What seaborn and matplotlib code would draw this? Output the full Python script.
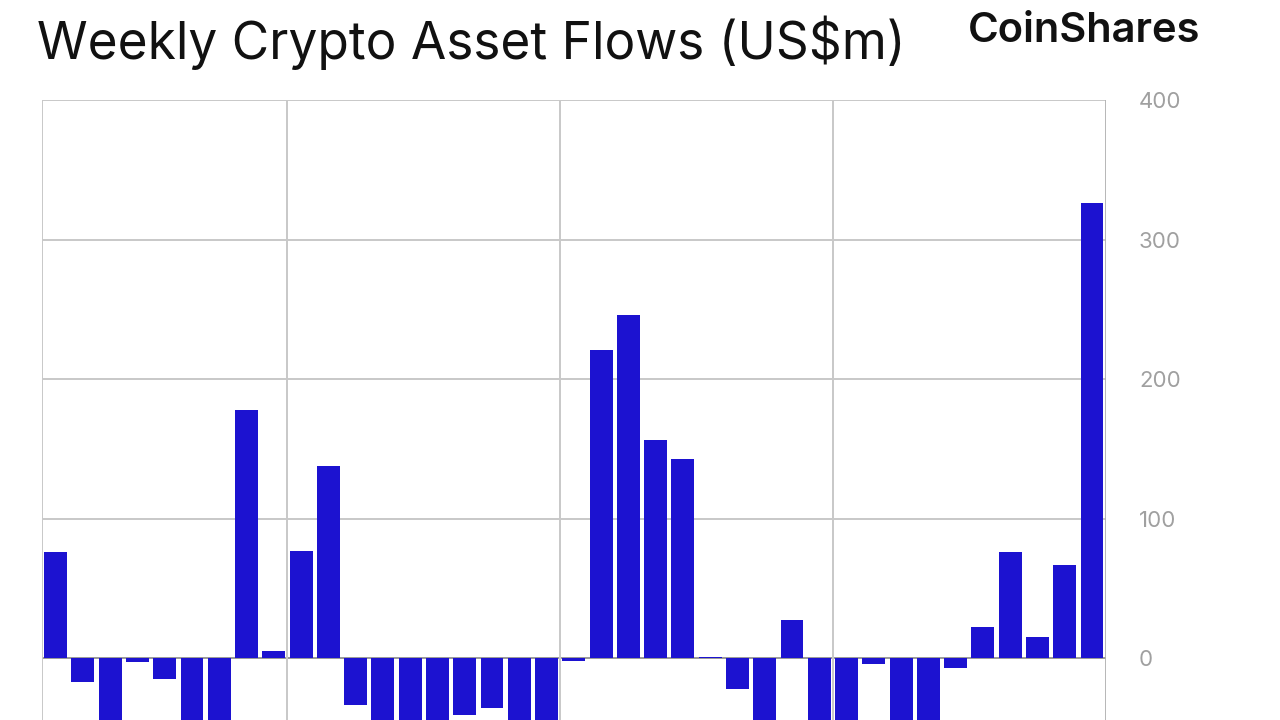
import matplotlib
matplotlib.use("Agg")
import matplotlib.pyplot as plt
import seaborn as sns
import pandas as pd

# Weekly flows, US$m (values below the crop are estimates)
weeks = list(range(39))
flows = [76, -17, -60, -3, -15, -50, -60, 178, 5, 77, 138, -34, -55, -60, -55,
         -41, -36, -55, -60, -2, 221, 246, 156, 143, 1, -22, -50, 27, -60, -55,
         -4, -50, -55, -7, 22, 76, 15, 67, 326]
y_ticks = [0, 100, 200, 300, 400]

df = pd.DataFrame({"week": weeks, "flow": flows})

sns.set_style("white")
plt.rcParams["font.family"] = ["Inter", "DejaVu Sans"]

fig = plt.figure(figsize=(12.8, 7.2), dpi=100)
ax = fig.add_axes([0.0328, 0.0, 0.831, 0.861])

for v in y_ticks:
    ax.axhline(v, color="#c8c8c8" if v else "#999999", lw=1.4, zorder=0)
for xv in [-0.5, 8.5, 18.5, 28.5]:
    ax.axvline(xv, color="#c8c8c8", lw=1.4, zorder=0)
ax.axvline(38.5, color="#b0b0b0", lw=2, zorder=0)

sns.barplot(data=df, x="week", y="flow", color="#1c12d0", saturation=1,
            width=0.84, linewidth=0, ax=ax, zorder=2)

ax.set_xlim(-0.5, 38.5)
ax.set_ylim(-44.4, 400)
ax.set_xticks([])
ax.set_xlabel("")
ax.set_ylabel("")
ax.yaxis.tick_right()
ax.set_yticks(y_ticks)
ax.tick_params(axis="y", length=0, labelsize=16, labelcolor="#a0a0a0", pad=24)
for s in ax.spines.values():
    s.set_visible(False)

fig.text(0.029, 0.94, "Weekly Crypto Asset Flows (US$m)", fontsize=37,
         va="center", ha="left", color="#111111")
fig.text(0.938, 0.957, "CoinShares", fontsize=30, fontweight="semibold",
         va="center", ha="right", color="#111111")

fig.savefig("out.png", dpi=100)
